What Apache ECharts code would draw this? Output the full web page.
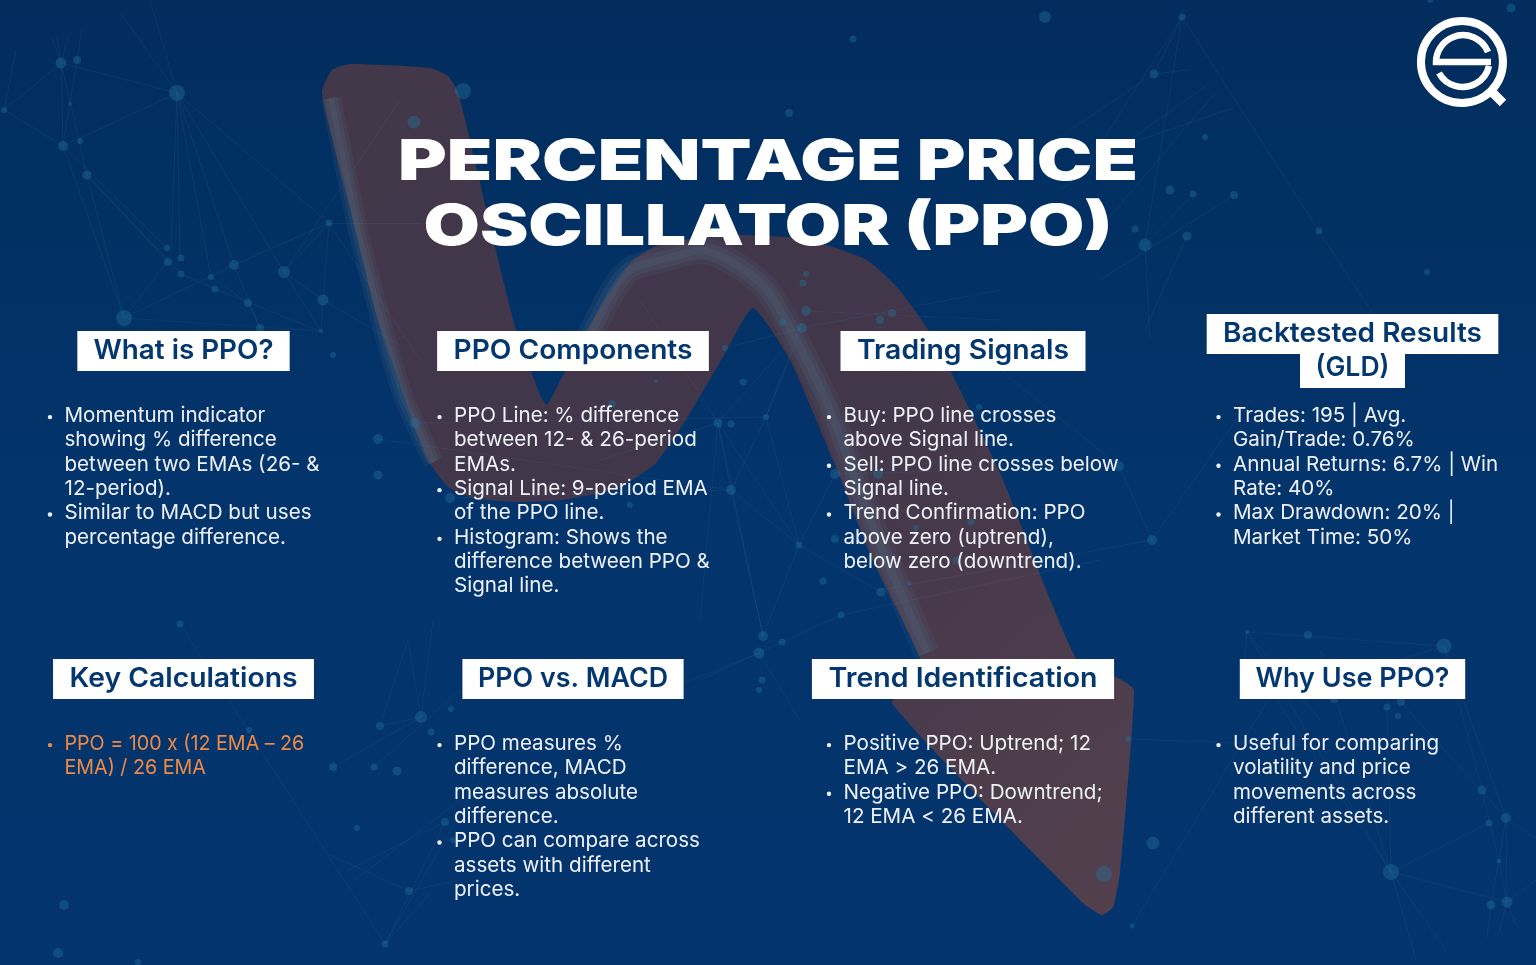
<!DOCTYPE html>
<html lang="en">
<head>
<meta charset="utf-8">
<title>Percentage Price Oscillator (PPO)</title>
<script src="https://cdn.jsdelivr.net/npm/echarts@6/dist/echarts.min.js"></script>
<style>
  html, body { margin: 0; padding: 0; background: #03336b; }
  #main { width: 1536px; height: 965px; }
</style>
</head>
<body>
<div id="main"></div>
<script>
// texts
var titleLines = ['PERCENTAGE PRICE', 'OSCILLATOR (PPO)'];
var headingsTop = ['What is PPO?', 'PPO Components', 'Trading Signals', 'Backtested Results'];
var headingsBottom = ['Key Calculations', 'PPO vs. MACD', 'Trend Identification', 'Why Use PPO?'];
var headingExtra = '(GLD)';

// each bullet is a list of wrapped lines
var bulletsTop = [
  [['Momentum indicator', 'showing % difference', 'between two EMAs (26- &', '12-period).'],
   ['Similar to MACD but uses', 'percentage difference.']],
  [['PPO Line: % difference', 'between 12- & 26-period', 'EMAs.'],
   ['Signal Line: 9-period EMA', 'of the PPO line.'],
   ['Histogram: Shows the', 'difference between PPO &', 'Signal line.']],
  [['Buy: PPO line crosses', 'above Signal line.'],
   ['Sell: PPO line crosses below', 'Signal line.'],
   ['Trend Confirmation: PPO', 'above zero (uptrend),', 'below zero (downtrend).']],
  [['Trades: 195 | Avg.', 'Gain/Trade: 0.76%'],
   ['Annual Returns: 6.7% | Win', 'Rate: 40%'],
   ['Max Drawdown: 20% |', 'Market Time: 50%']]
];
var bulletsBottom = [
  [['PPO = 100 x (12 EMA \u2013 26', 'EMA) / 26 EMA']],
  [['PPO measures %', 'difference, MACD', 'measures absolute', 'difference.'],
   ['PPO can compare across', 'assets with different', 'prices.']],
  [['Positive PPO: Uptrend; 12', 'EMA > 26 EMA.'],
   ['Negative PPO: Downtrend;', '12 EMA < 26 EMA.']],
  [['Useful for comparing', 'volatility and price', 'movements across', 'different assets.']]
];

// background network: [x, y, radius]
var networkNodes = [
  [61,63,5.5],[77,60,4],[4,110,3],[70,104,2],[63,146,5],[80,141,3],[87,175,4.5],[177,93,8],[124,318,8],
  [167,248,3],[181,258,3.5],[168,262,4],[181,274,3.5],[211,277,3],[215,289,3.5],[234,265,5],[248,303,4],
  [284,272,6],[323,300,5.5],[329,223,3.5],[260,328,4],[321,331,2],[463,91,8],[414,122,6.5],[439,225,3],
  [789,113,4],[1045,17,6],[853,39,3.5],[718,423,4.5],[731,424,3.5],[766,417,3],[731,490,5],[743,382,3.5],
  [656,381,2],[725,348,3],[806,311,5],[802,328,5],[783,322,3.5],[803,283,3.5],[806,274,3],[880,320,4],
  [892,313,4],[612,404,4],[415,423,5],[378,439,5],[378,475,4.5],[333,355,3],[450,498,5],[630,505,3],
  [799,545,3.5],[835,474,5],[878,474,5],[763,636,5],[759,653,5.5],[782,642,3.5],[841,615,3.5],[823,581,3.5],
  [881,592,4.5],[909,583,2.5],[835,539,4],[971,522,3.5],[916,528,3],[956,560,3.5],[1119,466,5],[1152,540,5],
  [762,680,3.5],[759,690,3],[979,407,3],[1182,17,3.5],[1154,74,4.5],[1205,137,3],[1170,190,4.5],[1193,194,3.5],
  [1234,195,4],[1135,229,3.5],[1145,245,6.5],[1187,236,4.5],[1319,231,3.5],[1427,272,3],[1511,8,4.5],[1430,0,3],
  [180,624,3.5],[249,730,3],[64,905,5],[58,953,5],[138,962,3],[385,944,3.5],[380,726,4],[421,717,6],[431,732,3.5],
  [451,709,3],[333,767,4],[374,767,3.5],[397,771,4.5],[357,828,3],[445,822,4],[409,891,4],[453,840,3],
  [1247,632,2],[1308,635,4],[1444,646,7.5],[1334,699,4],[1387,707,3.5],[1401,702,4],[1398,716,3],[1482,790,4.5],
  [1506,818,5],[1489,823,3.5],[1499,861,2.5],[1507,902,5.5],[1491,905,4.5],[1391,872,8],[1153,843,6.5],[1132,926,2.5],
  [1128,739,3],[1104,874,8]
];
// [x1, y1, x2, y2]
var networkLinks = [
  [61,63,4,110],[4,110,63,146],[61,63,63,146],[61,63,177,93],[63,146,177,93],[77,60,63,146],[61,63,87,175],
  [77,60,82,28],[61,63,52,38],[61,63,57,37],[61,63,70,32],[4,110,16,50],[177,93,120,12],[177,93,150,0],
  [177,93,171,248],[177,93,180,258],[177,93,211,277],[177,93,234,265],[177,93,284,272],[177,93,329,223],
  [63,146,124,318],[87,175,124,318],[87,175,168,262],[87,175,181,274],[63,146,167,248],[124,318,167,262],
  [124,318,234,265],[234,265,329,223],[124,318,320,331],[181,274,215,289],[211,277,248,303],[248,303,260,328],
  [215,289,320,331],[234,265,260,328],[284,272,323,300],[284,272,321,331],[329,223,284,272],[329,223,420,223],
  [329,223,323,300],[284,272,400,100],[329,223,420,360],[323,300,400,345],[323,300,321,331],
  [718,423,802,328],[718,423,640,300],[718,423,763,636],[718,423,600,460],[718,423,700,620],[766,417,806,311],
  [766,417,802,328],[731,490,799,545],[731,490,763,636],[766,417,799,545],[799,545,835,474],[799,545,718,423],
  [731,490,378,439],[415,423,766,417],[731,490,450,498],[731,490,718,423],[806,311,1000,320],[802,328,1000,290],
  [725,348,802,328],[799,545,763,636],[799,545,881,592],[766,417,731,490],
  [841,615,759,653],[841,615,1100,560],[759,653,700,680],[759,653,640,700],[759,653,800,720],
  [1119,466,835,474],[1119,466,1000,370],[1119,466,1152,540],[1152,540,881,590],[1152,540,1250,400],
  [1182,17,1319,231],[1319,231,1390,340],[1182,17,1154,74],[1154,74,1040,150],[1182,17,1090,160],[1182,17,1145,245],
  [1154,74,1187,70],[1207,85,1060,190],[1215,93,1090,240],[1233,108,1110,150],[1193,194,1145,245],[1234,195,1100,280],
  [1187,236,1145,330],[1145,245,1150,340],
  [1391,872,1247,632],[1391,872,1387,707],[1391,872,1320,650],[1391,872,1270,690],[1391,872,1489,823],[1391,872,1507,902],
  [1391,872,1448,953],[1391,872,1416,960],[1444,646,1400,660],[1444,646,1506,818],[1444,646,1482,790],[1401,702,1506,818],
  [1482,790,1499,861],[1499,861,1507,902],[1506,818,1491,905],[1506,818,1507,902],[1506,818,1536,838],[1507,902,1536,880],
  [1507,902,1498,935],[1507,902,1516,925],[1491,905,1487,938],[1132,926,1280,680],[1128,739,1300,745],[1247,632,1444,646],
  [1247,632,1320,720],[1247,632,1243,690],
  [180,624,385,944],[385,944,445,822],[385,944,433,890],[385,944,480,780],[333,767,421,717],[421,717,380,726],
  [421,717,408,640],[421,717,433,620],[380,726,408,640],[374,767,460,690],[409,891,330,855],[409,891,460,880],
  [348,870,445,822],[355,880,460,800]
];

// arrow outline and its lit edges
var arrowOutline = [
  [322,92],[332,70],[350,64],[430,68],[448,76],[458,92],[480,183],[494,243],[516,330],[541,397],[547,405],[559,383],
  [580,343],[605,300],[633,260],[663,243],[733,235],[797,238],[833,247],[867,260],[897,287],[925,325],[950,370],[1000,473],
  [1077,660],[1120,679],[1134,690],[1120,873],[1113,907],[1102,915],[1083,903],[892,703],[926,680],[912,640],
  [873,560],[833,460],[790,360],[753,308],[723,357],[687,418],[655,464],[616,489],[562,500],[516,502],
  [473,498],[448,487],[426,457],[401,387],[376,313],[348,200],[335,150]
];
var arrowGlowTail = [[331,98],[353,207],[366,263],[401,390],[434,462]];
var arrowGlowArc = [[575,362],[587,340],[626,273],[669,258],[705,251],[740,267],[767,290],[787,323],[813,373],[830,410],[873,527],[927,653]];

// logo
var logoRing = 'M1462,21 A41,41 0 1,1 1461.9,21 Z';
var logoTail = 'M1490,90 L1503,103';
var logoTop = 'M1488,52 A27,27 0 0,0 1436,62 L1491,62';
var logoBottom = 'M1439,73 A27,27 0 0,0 1489,66';

// layout
var BODY_COLOR = '#eef2f7';
var FORMULA_COLOR = '#ee8a45';
var HEADING_COLOR = '#03376f';
var LINE_HEIGHT = 24.35;
var BODY_FONT = '400 20.6px Inter';
var HEADING_FONT = '600 27.5px Inter';
var columnText = [64.5, 454, 843.5, 1233];
var columnMiddle = [183.5, 573, 963, 1352.5];
// widths the heading texts have in the picture
var headingWidthsTop = [180, 239, 212, 259];
var headingWidthsBottom = [228, 190, 269, 194];
var extraWidth = 74;
var titleWidths = [740, 689];

var measure = document.createElement('canvas').getContext('2d');
function fitScale(text, font, width) {
  measure.font = font;
  return width / measure.measureText(text).width;
}

var chart = echarts.init(document.getElementById('main'));
var elements = [];

function addHeading(text, x, y, width) {
  elements.push({
    type: 'text', x: x, y: y, z: 5, silent: true,
    scaleX: fitScale(text, HEADING_FONT, width),
    style: {
      text: text, fill: HEADING_COLOR, font: HEADING_FONT,
      align: 'center', verticalAlign: 'middle',
      backgroundColor: '#ffffff', padding: [5, 16, 7, 16]
    }
  });
}

function addBullets(groups, col, startY, color, scale) {
  var y = startY;
  groups.forEach(function (lines) {
    elements.push({
      type: 'circle', z: 5, silent: true,
      shape: { cx: columnText[col] - 14.5, cy: y + 1.5, r: 2.2 },
      style: { fill: color }
    });
    lines.forEach(function (line) {
      elements.push({
        type: 'text', x: columnText[col], y: y, scaleX: scale, z: 5, silent: true,
        style: { text: line, fill: color, font: BODY_FONT, align: 'left', verticalAlign: 'middle' }
      });
      y += LINE_HEIGHT;
    });
  });
}

headingsTop.forEach(function (h, i) {
  addHeading(h, columnMiddle[i], i === 3 ? 334 : 351, headingWidthsTop[i]);
});
addHeading(headingExtra, columnMiddle[3], 368, extraWidth);
headingsBottom.forEach(function (h, i) {
  addHeading(h, columnMiddle[i], 679, headingWidthsBottom[i]);
});
bulletsTop.forEach(function (groups, i) {
  addBullets(groups, i, 415.6, BODY_COLOR, 1);
});
bulletsBottom.forEach(function (groups, i) {
  addBullets(groups, i, 743.6, i === 0 ? FORMULA_COLOR : BODY_COLOR, i === 0 ? 0.955 : 1);
});

titleLines.forEach(function (line, i) {
  var font = '900 57px Inter';
  elements.push({
    type: 'text', x: 768, y: i === 0 ? 163 : 227.5, z: 6, silent: true,
    scaleX: fitScale(line, font, titleWidths[i]),
    style: {
      text: line, fill: '#ffffff', font: font,
      align: 'center', verticalAlign: 'middle',
      shadowBlur: 6, shadowColor: 'rgba(0,0,0,0.35)', shadowOffsetY: 2
    }
  });
});

function toPixels(api, pts) {
  return pts.map(function (p) { return api.coord(p); });
}

// soft lit band: a few wide faint strokes on top of each other
function glowLine(api, pts, lineWidth, alpha) {
  return {
    type: 'polyline',
    shape: { points: toPixels(api, pts), smooth: 0.3 },
    style: {
      fill: 'none', stroke: 'rgba(84,108,132,' + alpha + ')', lineWidth: lineWidth, lineCap: 'butt', lineJoin: 'round'
    }
  };
}

function logoPath(d, width) {
  return {
    type: 'path',
    shape: { pathData: d },
    style: { fill: 'none', stroke: '#ffffff', lineWidth: width }
  };
}

var option = {
  animation: false,
  backgroundColor: {
    type: 'linear', x: 0, y: 0, x2: 0, y2: 1,
    colorStops: [
      { offset: 0, color: '#022d5d' },
      { offset: 0.5, color: '#03346b' },
      { offset: 1, color: '#03346d' }
    ]
  },
  grid: { left: 0, right: 0, top: 0, bottom: 0 },
  xAxis: { type: 'value', min: 0, max: 1536, show: false },
  yAxis: { type: 'value', min: 0, max: 965, inverse: true, show: false },
  tooltip: { show: false },
  graphic: { elements: elements },
  series: [
    {
      type: 'custom', z: 1, silent: true, clip: false,
      data: [[0, 0]],
      renderItem: function (params, api) {
        return {
          type: 'group',
          children: [
            {
              type: 'polygon',
              shape: { points: toPixels(api, arrowOutline), smooth: 0.16 },
              style: {
                fill: new echarts.graphic.LinearGradient(0, 0, 1, 1, [
                  { offset: 0, color: '#43384a' },
                  { offset: 0.5, color: '#41364a' },
                  { offset: 1, color: '#53404e' }
                ])
              }
            },
            glowLine(api, arrowGlowTail, 20, 0.14),
            glowLine(api, arrowGlowTail, 13, 0.18),
            glowLine(api, arrowGlowTail, 6, 0.2),
            glowLine(api, arrowGlowArc, 26, 0.14),
            glowLine(api, arrowGlowArc, 17, 0.18),
            glowLine(api, arrowGlowArc, 8, 0.2),
            logoPath(logoRing, 8),
            logoPath(logoTail, 9),
            logoPath(logoTop, 6.5),
            logoPath(logoBottom, 6.5)
          ]
        };
      }
    },
    {
      type: 'lines', coordinateSystem: 'cartesian2d', z: 2, silent: true,
      lineStyle: { color: 'rgba(70,135,175,0.24)', width: 1 },
      data: networkLinks.map(function (l) {
        return { coords: [[l[0], l[1]], [l[2], l[3]]] };
      })
    },
    {
      type: 'scatter', z: 2, silent: true,
      symbolSize: function (d) { return d[2] * 2; },
      itemStyle: { color: 'rgba(35,115,155,0.5)' },
      data: networkNodes
    }
  ]
};

chart.setOption(option);
</script>
</body>
</html>
